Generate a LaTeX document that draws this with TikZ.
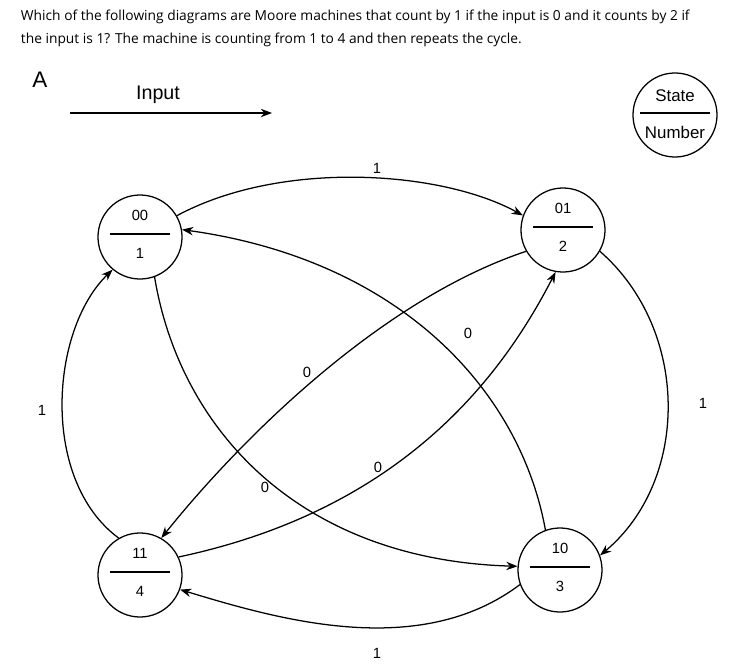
\documentclass[tikz,border=0pt]{standalone}
\usepackage{fontspec}
\setmainfont{Liberation Sans}
\newfontfamily\qfont{Open Sans}
\usetikzlibrary{arrows.meta,calc}
\begin{document}
\begin{tikzpicture}[x=0.025cm,y=-0.025cm,
  st/.style={circle,draw,line width=0.9pt,minimum size=2.1cm,inner sep=0pt},
  ed/.style={line width=0.9pt,-{Stealth[length=8pt,width=6pt]}},
  lb/.style={font=\fontsize{10.5}{12}\selectfont}]
\useasboundingbox (0,0) rectangle (744,664);
\node[anchor=west,font=\qfont\fontsize{9.8}{11}\selectfont] (q1) at (16,17) {Which of the following diagrams are Moore machines that count by 1 if the input is 0 and it counts by 2 if};
\node[anchor=west,font=\qfont\fontsize{9.8}{11}\selectfont] (q2) at (16,40) {the input is 1? The machine is counting from 1 to 4 and then repeats the cycle.};
\node[font=\fontsize{16}{18}\selectfont] (A) at (40,80) {A};
\node[font=\fontsize{14}{16}\selectfont] (inp) at (158,95) {Input};
\coordinate (ia) at (70,113); \coordinate (ib) at (272,113);
\draw[ed] (ia) -- (ib);
\newcommand{\mystate}[4]{%
  \node[st] (#1) at (#2) {};
  \draw[line width=0.9pt] ($(#1.center)+(-30,-3)$) -- ($(#1.center)+(30,-3)$);
  \node[lb] (#1t) at ($(#1.center)+(0,-22)$) {#3};
  \node[lb] (#1b) at ($(#1.center)+(0,16)$) {#4};}
\mystate{s00}{140,237}{00}{1}
\mystate{s01}{563,230}{01}{2}
\mystate{s11}{140,575}{11}{4}
\mystate{s10}{560,570}{10}{3}
\node[circle,draw,line width=0.9pt,minimum size=2.1cm,inner sep=0pt] (leg) at (675,115) {};
\draw[line width=0.9pt] (640,113) -- (710,113);
\node[font=\fontsize{12}{14}\selectfont] (legt) at (675,96) {State};
\node[font=\fontsize{12}{14}\selectfont] (legb) at (675,132) {Number};
% edges
\draw[ed] (s00.30) .. controls (280,160) and (440,170) .. (s01.160);
\node[lb] (l1) at (377,168) {1};
\draw[ed] (s01.-30) .. controls (690,330) and (690,480) .. (s10.20);
\node[lb] (l2) at (703,403) {1};
\draw[ed] (s10.-160) .. controls (420,660) and (280,620) .. (s11.-20);
\node[lb] (l3) at (377,653) {1};
\draw[ed] (s11.120) .. controls (40,480) and (50,330) .. (s00.-130);
\node[lb] (l4) at (42,410) {1};
\draw[ed] (s00.-70) .. controls (180,430) and (300,560) .. (s10.175);
\node[lb] (l5) at (265,487) {0};
\draw[ed] (s10.110) .. controls (520,390) and (400,260) .. (s00.10);
\node[lb] (l6) at (468,333) {0};
\draw[ed] (s01.-150) .. controls (380,300) and (240,440) .. (s11.60);
\node[lb] (l7) at (307,372) {0};
\draw[ed] (s11.25) .. controls (400,510) and (500,380) .. (s01.-100);
\node[lb] (l8) at (378,467) {0};
\end{tikzpicture}
\end{document}
